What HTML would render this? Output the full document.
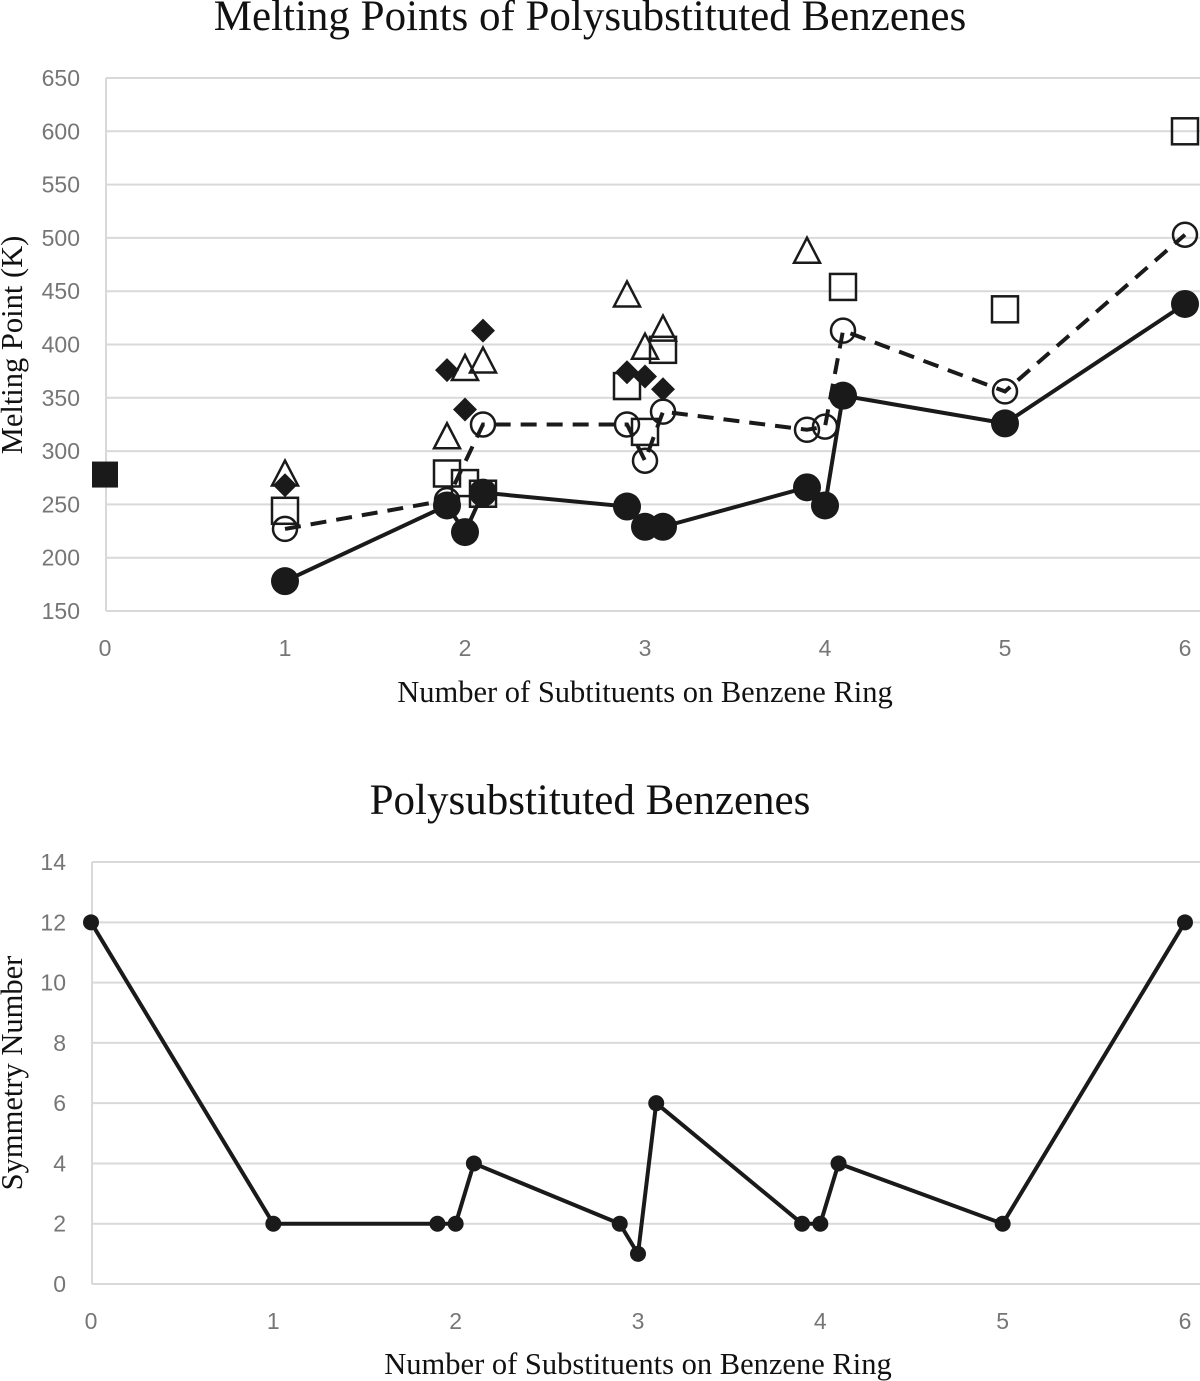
<!DOCTYPE html>
<html><head><meta charset="utf-8">
<style>
html,body{margin:0;padding:0;background:#fff;}
svg{display:block;}
.tick{font-family:"Liberation Sans",sans-serif;font-size:23px;fill:#767676;}
.ttl{font-family:"Liberation Serif",serif;fill:#111;}
</style></head>
<body>
<svg id="chart" width="1200" height="1381" viewBox="0 0 1200 1381" xmlns="http://www.w3.org/2000/svg">
<text class="ttl" x="590" y="30" font-size="43" text-anchor="middle">Melting Points of Polysubstituted Benzenes</text>
<text class="ttl" x="645" y="702" font-size="30.5" text-anchor="middle">Number of Subtituents on Benzene Ring</text>
<text class="ttl" transform="translate(22,345) rotate(-90)" font-size="30.5" text-anchor="middle">Melting Point (K)</text>
<text class="ttl" x="590" y="814" font-size="43" text-anchor="middle">Polysubstituted Benzenes</text>
<text class="ttl" x="638" y="1374" font-size="30.5" text-anchor="middle">Number of Substituents on Benzene Ring</text>
<text class="ttl" transform="translate(22,1073) rotate(-90)" font-size="30.5" text-anchor="middle">Symmetry Number</text>
<g id="top"></g>
<g id="bot"></g>
</svg>
<script>
const topYTicks=[150,200,250,300,350,400,450,500,550,600,650];
const topXTicks=[0,1,2,3,4,5,6];
const filledCircleX=[1,1.9,2,2.1,2.9,3,3.1,3.9,4,4.1,5,6];
const filledCircleY=[178,249,224,261,248,229,229,266,249,352,326,438];
const openCircleX=[1,1.9,2.1,2.9,3,3.1,3.9,4,4.1,5,6];
const openCircleY=[227,254,325,325,291,337,320,323,413,356,503];
const openSquareX=[1,1.9,2,2.1,2.9,3,3.1,4.1,5,6];
const openSquareY=[244,279,270,260,361,318,395,454,433,600];
const filledSquareX=[0];
const filledSquareY=[278];
const triangleX=[1,1.9,2,2.1,2.9,3,3.1,3.9];
const triangleY=[278,313,377,384,446,397,414,487];
const diamondX=[1,1.9,2,2.1,2.9,3,3.1];
const diamondY=[268,376,339,413,374,370,358];
const botYTicks=[0,2,4,6,8,10,12,14];
const botXTicks=[0,1,2,3,4,5,6];
const symX=[0,1,1.9,2,2.1,2.9,3,3.1,3.9,4,4.1,5,6];
const symY=[12,2,2,2,4,2,1,6,2,2,4,2,12];

const NS="http://www.w3.org/2000/svg";
function mk(parent,tag,attrs){const e=document.createElementNS(NS,tag);for(const k in attrs)e.setAttribute(k,attrs[k]);parent.appendChild(e);return e;}
const tx=v=>105+v*180, ty=v=>611-(v-150)*1.066;
const bx=v=>91+v*182.33, by=v=>1284-v*30.14;
const T=document.getElementById('top'), B=document.getElementById('bot');

topYTicks.forEach(v=>{
 const l=mk(T,'line',{x1:106,x2:1200,y1:ty(v),y2:ty(v),stroke:'#d9d9d9','stroke-width':2});
 
 
 const t=mk(T,'text',{x:80,y:ty(v)+8,class:'tick','text-anchor':'end'});t.textContent=v;
 
 
});
const ta=mk(T,'line',{x1:106,x2:106,y1:ty(650),y2:ty(150),stroke:'#d9d9d9','stroke-width':2});


topXTicks.forEach(v=>{
 const t=mk(T,'text',{x:tx(v),y:656,class:'tick','text-anchor':'middle'});t.textContent=v;
 
 
});
function poly(g,xs,ys,fx,fy,attrs,name){
 const p=mk(g,'polyline',Object.assign({points:xs.map((x,i)=>fx(x)+','+fy(ys[i])).join(' '),fill:'none'},attrs));
 
 
}
poly(T,filledCircleX,filledCircleY,tx,ty,{stroke:'#1a1a1a','stroke-width':4},'solid-series-line');
poly(T,openCircleX,openCircleY,tx,ty,{stroke:'#1a1a1a','stroke-width':4,'stroke-dasharray':'16,10'},'dashed-series-line');
const M={fill:'#fff',stroke:'#1a1a1a','stroke-width':2.5};
filledSquareX.forEach((x,i)=>{const e=mk(T,'rect',{x:tx(x)-13,y:ty(filledSquareY[i])-13,width:26,height:26,fill:'#1a1a1a'});
 });
openSquareX.forEach((x,i)=>{const e=mk(T,'rect',Object.assign({x:tx(x)-13,y:ty(openSquareY[i])-13,width:26,height:26},M,{fill:'none'}));
 });
triangleX.forEach((x,i)=>{const cx=tx(x),cy=ty(triangleY[i]);const e=mk(T,'polygon',Object.assign({points:`${cx},${cy-14} ${cx-13},${cy+11} ${cx+13},${cy+11}`},M,{fill:'none'}));
 });
diamondX.forEach((x,i)=>{const cx=tx(x),cy=ty(diamondY[i]);const e=mk(T,'polygon',{points:`${cx},${cy-12} ${cx+12},${cy} ${cx},${cy+12} ${cx-12},${cy}`,fill:'#1a1a1a'});
 });
openCircleX.forEach((x,i)=>{const e=mk(T,'circle',Object.assign({cx:tx(x),cy:ty(openCircleY[i]),r:12},M,{fill:'none'}));
 });
filledCircleX.forEach((x,i)=>{const e=mk(T,'circle',{cx:tx(x),cy:ty(filledCircleY[i]),r:14,fill:'#1a1a1a'});
 });

botYTicks.forEach(v=>{
 const l=mk(B,'line',{x1:92,x2:1200,y1:by(v),y2:by(v),stroke:'#d9d9d9','stroke-width':2});
 
 
 const t=mk(B,'text',{x:66,y:by(v)+8,class:'tick','text-anchor':'end'});t.textContent=v;
 
 
});
const ba=mk(B,'line',{x1:92,x2:92,y1:by(14),y2:by(0),stroke:'#d9d9d9','stroke-width':2});


botXTicks.forEach(v=>{
 const t=mk(B,'text',{x:bx(v),y:1329,class:'tick','text-anchor':'middle'});t.textContent=v;
 
 
});
poly(B,symX,symY,bx,by,{stroke:'#1a1a1a','stroke-width':4},'symmetry-line');
symX.forEach((x,i)=>{const e=mk(B,'circle',{cx:bx(x),cy:by(symY[i]),r:8,fill:'#1a1a1a'});
 });
</script>
</body></html>
